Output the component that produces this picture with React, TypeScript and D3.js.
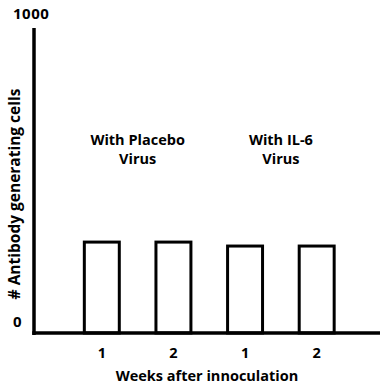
import React from "react";
import * as d3 from "d3";

const barKeys = ["p1", "p2", "i1", "i2"];
const weekLabels = ["1", "2", "1", "2"];
const values = [303, 303, 290, 290];
const yTickValues = [0, 1000];
const groupLabels = [
  { lines: ["With Placebo", "Virus"], keys: ["p1", "p2"] },
  { lines: ["With IL-6", "Virus"], keys: ["i1", "i2"] },
];
const xTitle = "Weeks after innoculation";
const yTitle = "# Antibody generating cells";

const W = 387;
const H = 387;
const FONT = "'Open Sans', sans-serif";

export default function App() {
  const axisX = 34;
  const axisY = 333;
  const y = d3.scaleLinear().domain([0, 1000]).range([axisY, 28]);
  const x = d3.scaleBand().domain(barKeys).range([66, 352.5]).paddingInner(0.47).paddingOuter(0.235);
  const bw = x.bandwidth();
  return (
    <svg width={W} height={H} style={{ position: "absolute", left: 0, top: 0, background: "#fff" }}>
      {barKeys.map((k, i) => (
        <rect
          key={k}
          x={(x(k) as number) + 1.5}
          y={y(values[i]) + 1.5}
          width={bw - 3}
          height={axisY - y(values[i]) - 1.5}
          fill="#fff"
          stroke="#000"
          strokeWidth={3}
        />
      ))}
      <line x1={axisX} x2={axisX} y1={y(1000)} y2={axisY + 2} stroke="#000" strokeWidth={3.5} />
      <line x1={axisX - 1.75} x2={380} y1={axisY} y2={axisY} stroke="#000" strokeWidth={3.5} />
      {yTickValues.map((v) => (
        <text
          key={v}
          x={13}
          y={v === 0 ? axisY - 6 : 19}
          fontFamily={FONT}
          fontWeight={700}
          fontSize={15}
          letterSpacing={0.5}
          fill="#000"
        >
          {v}
        </text>
      ))}
      {barKeys.map((k, i) => (
        <text
          key={k}
          x={(x(k) as number) + bw / 2}
          y={358}
          textAnchor="middle"
          fontFamily={FONT}
          fontWeight={700}
          fontSize={14.5}
        >
          {weekLabels[i]}
        </text>
      ))}
      <text x={207} y={381} textAnchor="middle" fontFamily={FONT} fontWeight={700} fontSize={14.5}>
        {xTitle}
      </text>
      <text
        transform={`translate(20,194) rotate(-90)`}
        textAnchor="middle"
        fontFamily={FONT}
        fontWeight={700}
        fontSize={15.5}
      >
        {yTitle}
      </text>
      {groupLabels.map((g) => {
        const cx =
          ((x(g.keys[0]) as number) + (x(g.keys[1]) as number) + bw) / 2;
        return (
          <text key={g.lines[0]} textAnchor="middle" fontFamily={FONT} fontWeight={700} fontSize={14.5}>
            {g.lines.map((l, j) => (
              <tspan key={j} x={cx} y={145 + j * 19}>
                {l}
              </tspan>
            ))}
          </text>
        );
      })}
    </svg>
  );
}
